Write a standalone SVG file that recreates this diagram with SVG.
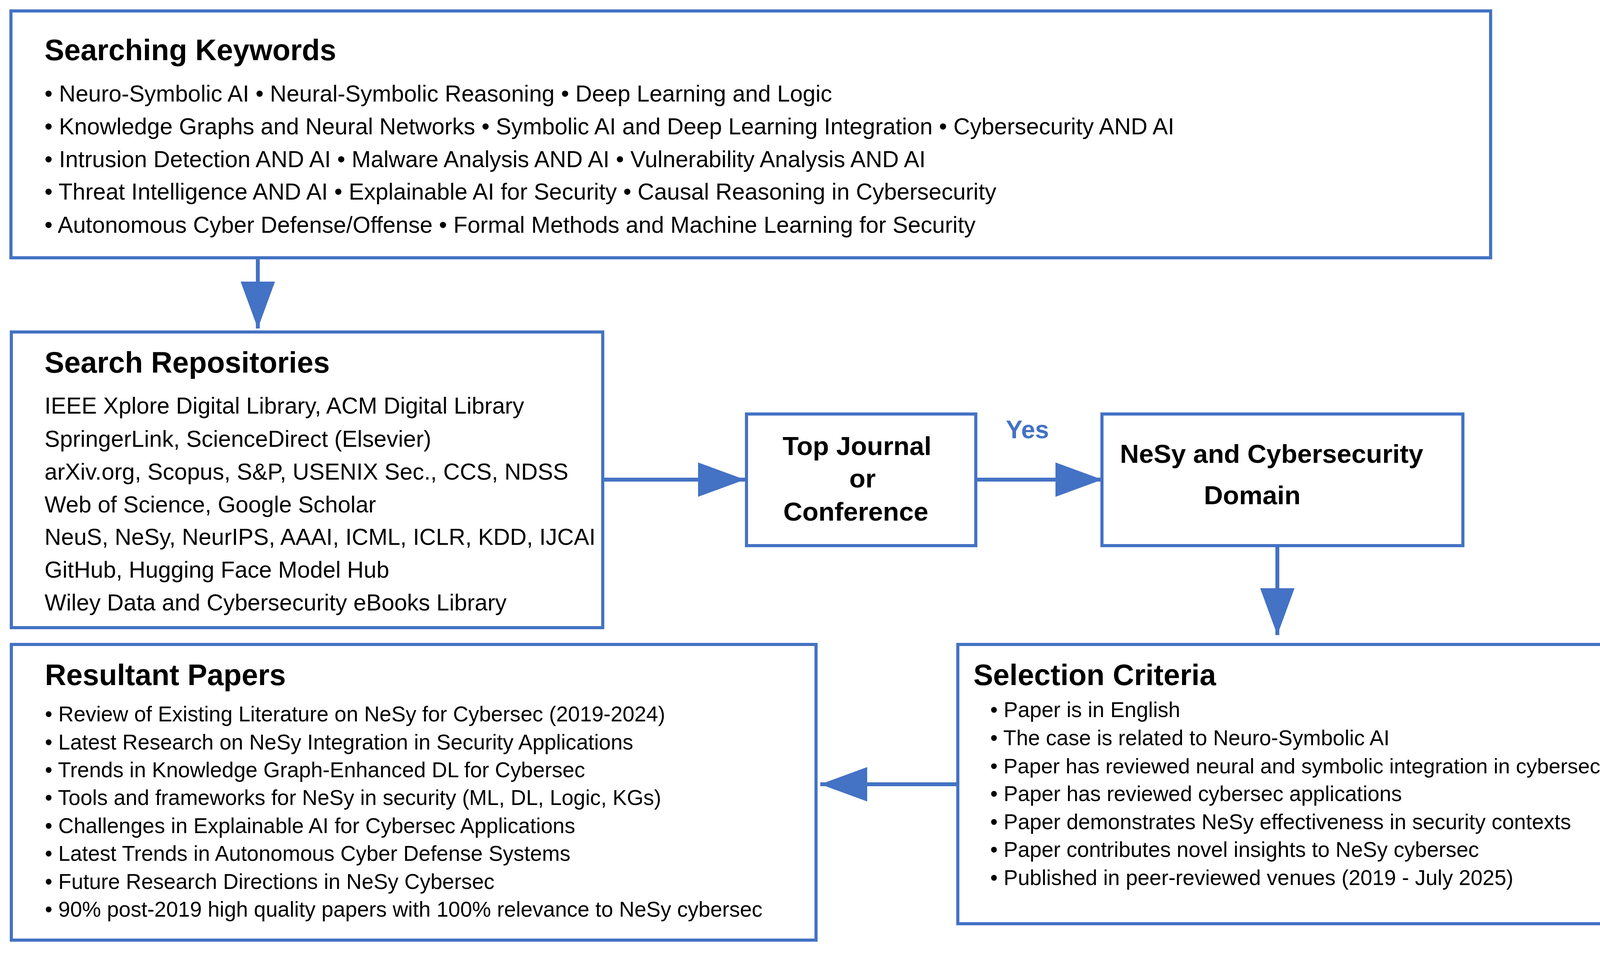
<svg xmlns="http://www.w3.org/2000/svg" width="4168" height="2504" viewBox="0 0 4168 2504">
<style>
.box{fill:#fff;stroke:#4472C4;stroke-width:8}
.title{font-family:"Liberation Sans",Arial,sans-serif;font-weight:bold;font-size:75.5px;fill:#000}
.kw{font-family:"Liberation Sans",Arial,sans-serif;font-size:58.8px;fill:#000}
.sm{font-family:"Liberation Sans",Arial,sans-serif;font-size:54.6px;fill:#000}
.mid{font-family:"Liberation Sans",Arial,sans-serif;font-weight:bold;font-size:67.5px;fill:#000}
.yes{font-family:"Liberation Sans",Arial,sans-serif;font-weight:bold;font-size:64px;fill:#4472C4}
.conn{stroke:#4472C4;stroke-width:10;fill:none}
</style>
<defs>
<marker id="ah" markerUnits="userSpaceOnUse" markerWidth="120" markerHeight="88" refX="120" refY="44" orient="auto">
<path d="M0,0 L120,44 L0,88 Z" fill="#4472C4"/>
</marker>
</defs>
<rect width="4168" height="2504" fill="#fff"/>
<g id="keywords">
<rect class="box" x="28" y="28" width="3788" height="632"/>
<text class="title" x="114" y="154">Searching Keywords</text>
<text class="kw" x="114" y="260">• Neuro-Symbolic AI • Neural-Symbolic Reasoning • Deep Learning and Logic</text>
<text class="kw" x="114" y="344">• Knowledge Graphs and Neural Networks • Symbolic AI and Deep Learning Integration • Cybersecurity AND AI</text>
<text class="kw" x="114" y="428">• Intrusion Detection AND AI • Malware Analysis AND AI • Vulnerability Analysis AND AI</text>
<text class="kw" x="114" y="511">• Threat Intelligence AND AI • Explainable AI for Security • Causal Reasoning in Cybersecurity</text>
<text class="kw" x="114" y="596">• Autonomous Cyber Defense/Offense • Formal Methods and Machine Learning for Security</text>
</g>
<g id="repositories">
<rect class="box" x="29" y="850" width="1514" height="757"/>
<text class="title" x="114" y="954">Search Repositories</text>
<text class="kw" x="114" y="1059">IEEE Xplore Digital Library, ACM Digital Library</text>
<text class="kw" x="114" y="1144">SpringerLink, ScienceDirect (Elsevier)</text>
<text class="kw" x="114" y="1228">arXiv.org, Scopus, S&amp;P, USENIX Sec., CCS, NDSS</text>
<text class="kw" x="114" y="1312">Web of Science, Google Scholar</text>
<text class="kw" x="114" y="1395">NeuS, NeSy, NeurIPS, AAAI, ICML, ICLR, KDD, IJCAI</text>
<text class="kw" x="114" y="1479">GitHub, Hugging Face Model Hub</text>
<text class="kw" x="114" y="1563">Wiley Data and Cybersecurity eBooks Library</text>
</g>
<g id="topjournal">
<rect class="box" x="1911" y="1060" width="587" height="337"/>
<text class="mid" x="2194" y="1165" text-anchor="middle">Top Journal</text>
<text class="mid" x="2208" y="1248" text-anchor="middle">or</text>
<text class="mid" x="2191" y="1333" text-anchor="middle">Conference</text>
</g>
<g id="nesy">
<rect class="box" x="2821" y="1060" width="924" height="337"/>
<text class="mid" x="2867" y="1185">NeSy and Cybersecurity</text>
<text class="mid" x="3082" y="1291">Domain</text>
</g>
<g id="selection">
<rect class="box" x="2452" y="1650" width="1680" height="715"/>
<text class="title" x="2492" y="1754">Selection Criteria</text>
<text class="sm" x="2535" y="1836">• Paper is in English</text>
<text class="sm" x="2535" y="1908">• The case is related to Neuro-Symbolic AI</text>
<text class="sm" x="2535" y="1980" style="font-size:54px">• Paper has reviewed neural and symbolic integration in cybersec</text>
<text class="sm" x="2535" y="2051">• Paper has reviewed cybersec applications</text>
<text class="sm" x="2535" y="2123">• Paper demonstrates NeSy effectiveness in security contexts</text>
<text class="sm" x="2535" y="2194">• Paper contributes novel insights to NeSy cybersec</text>
<text class="sm" x="2535" y="2266">• Published in peer-reviewed venues (2019 - July 2025)</text>
</g>
<g id="resultant">
<rect class="box" x="29" y="1650" width="2060" height="757"/>
<text class="title" x="115" y="1754">Resultant Papers</text>
<text class="sm" x="115" y="1847">• Review of Existing Literature on NeSy for Cybersec (2019-2024)</text>
<text class="sm" x="115" y="1919">• Latest Research on NeSy Integration in Security Applications</text>
<text class="sm" x="115" y="1990">• Trends in Knowledge Graph-Enhanced DL for Cybersec</text>
<text class="sm" x="115" y="2061">• Tools and frameworks for NeSy in security (ML, DL, Logic, KGs)</text>
<text class="sm" x="115" y="2133">• Challenges in Explainable AI for Cybersec Applications</text>
<text class="sm" x="115" y="2204">• Latest Trends in Autonomous Cyber Defense Systems</text>
<text class="sm" x="115" y="2276">• Future Research Directions in NeSy Cybersec</text>
<text class="sm" x="115" y="2347">• 90% post-2019 high quality papers with 100% relevance to NeSy cybersec</text>
</g>
<g id="connectors">
<line class="conn" x1="660" y1="664" x2="660" y2="841" marker-end="url(#ah)"/>
<line class="conn" x1="1547" y1="1228" x2="1907" y2="1228" marker-end="url(#ah)"/>
<line class="conn" x1="2502" y1="1228" x2="2822" y2="1228" marker-end="url(#ah)"/>
<line class="conn" x1="3270" y1="1401" x2="3270" y2="1626" marker-end="url(#ah)"/>
<line class="conn" x1="2448" y1="2008" x2="2100" y2="2008" marker-end="url(#ah)"/>
<text class="yes" x="2575" y="1122">Yes</text>
</g>
</svg>
